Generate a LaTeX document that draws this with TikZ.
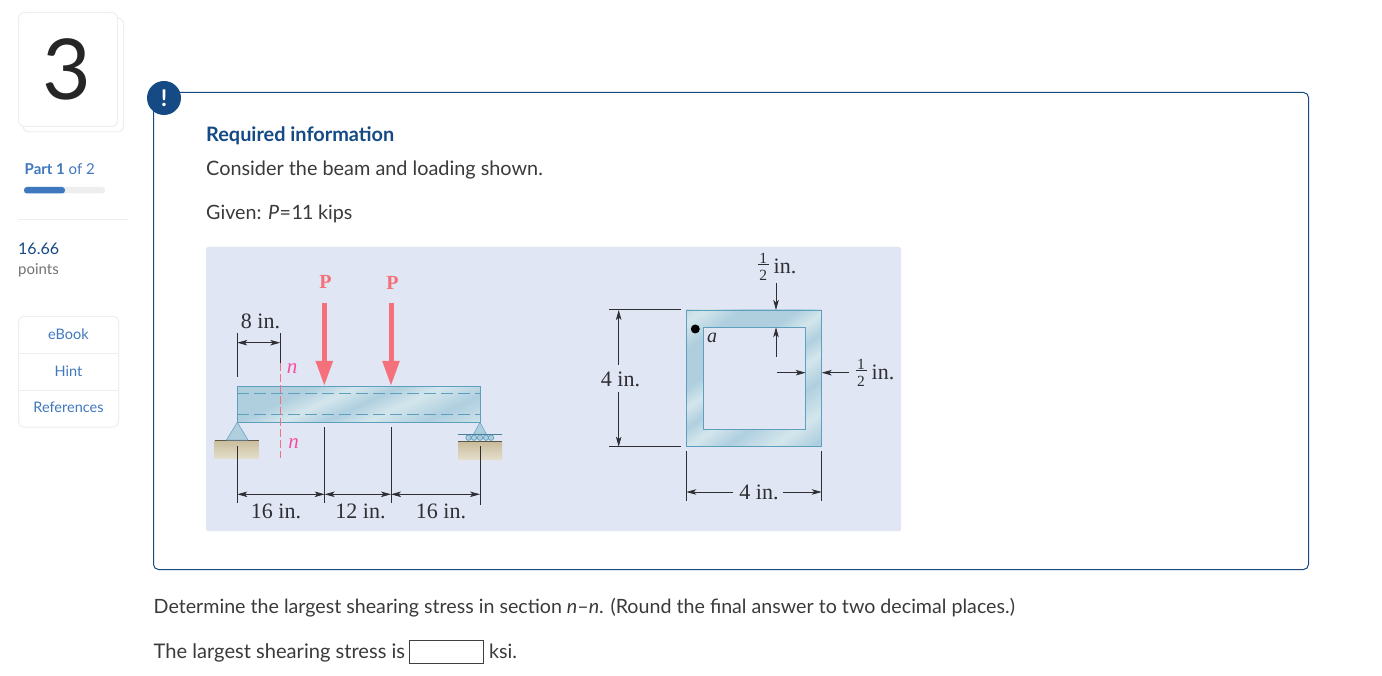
\documentclass[tikz,border=0pt]{standalone}
\usepackage{fontspec}
\setsansfont{Lato}
\setmainfont{Liberation Serif}
\usetikzlibrary{arrows.meta}
\definecolor{navy}{HTML}{154A84}
\definecolor{linkblue}{HTML}{3F78BE}
\definecolor{bodytext}{HTML}{3A3A3A}
\definecolor{panel}{HTML}{E0E6F3}
\definecolor{steelA}{HTML}{AFCFDF}
\definecolor{steelB}{HTML}{D4E6EC}
\definecolor{steelE}{HTML}{5F9FBE}
\definecolor{loadred}{HTML}{F4707A}
\definecolor{sandA}{HTML}{C9BC9B}
\definecolor{sandB}{HTML}{E4DECB}
\definecolor{dimk}{HTML}{2E2E33}
\definecolor{cardline}{HTML}{EEEEEE}
\pgfdeclarehorizontalshading{steel}{100bp}{
 color(0bp)=(steelA); color(30bp)=(steelA); color(34bp)=(steelB); color(38bp)=(steelA);
 color(44bp)=(steelA); color(47bp)=(steelB); color(50bp)=(steelA); color(53bp)=(steelB);
 color(57bp)=(steelA); color(62bp)=(steelB); color(66bp)=(steelA); color(100bp)=(steelA)}
\tikzset{
 x=1pt,y=-1pt,
 ui/.style={font=\sffamily\fontsize{#1}{#1}\selectfont,inner sep=0pt,anchor=base west},
 ui/.default=20,
 uic/.style={font=\sffamily\fontsize{#1}{#1}\selectfont,inner sep=0pt},
 fig/.style={font=\rmfamily\fontsize{22}{22}\selectfont,text=dimk,inner sep=0pt},
 figit/.style={font=\rmfamily\itshape\fontsize{21}{21}\selectfont,inner sep=0pt},
 frac/.style={font=\rmfamily\fontsize{15.5}{15.5}\selectfont,text=dimk,inner sep=0pt},
 dimline/.style={draw=dimk,line width=1pt},
 dimarrow/.style={draw=dimk,line width=0.8pt,{Stealth[length=10pt,width=5.5pt,inset=2.5pt]}-{Stealth[length=10pt,width=5.5pt,inset=2.5pt]}},
 onearrow/.style={draw=dimk,line width=0.8pt,-{Stealth[length=10pt,width=5.5pt,inset=2.5pt]}},
 loadarrow/.style={draw=loadred,line width=5pt,-{Triangle[length=25pt,width=16pt]}},
 card/.style={draw=cardline,line width=1pt,fill=white,rounded corners=6pt},
}
\begin{document}
\begin{tikzpicture}
\useasboundingbox (0,0) rectangle (1382,676);
\fill[white] (0,0) rectangle (1382,676);
% sidebar cards
\draw[card] (23,18) rectangle (123.5,132);
\draw[card] (18.5,12.5) rectangle (117.5,126.5);
\node[uic=84,text=black!85] (num) at (67,69) {3};
\node[ui=15,text=linkblue] (part) at (24.5,174.5) {\textbf{Part 1} of 2};
\fill[cardline,rounded corners=3pt] (24,187) rectangle (105,193.5);
\fill[linkblue,rounded corners=3pt] (24,187) rectangle (65,193.5);
\draw[cardline,line width=1pt] (18,219.5) -- (128,219.5);
\node[ui=16,text=navy] (score) at (18,254.5) {16.66};
\node[ui=15,text=black!55] (pts) at (18,274.5) {points};
\draw[draw=cardline,line width=1pt,rounded corners=5pt] (18.5,316.5) -- (118.5,316.5) -- (118.5,427) -- (18.5,427) -- cycle;
\draw[cardline,line width=1pt] (18.5,353.5) -- (118.5,353.5) (18.5,390.5) -- (118.5,390.5);
\node[uic=14.5,text=linkblue] (ebook) at (68.5,334.5) {eBook};
\node[uic=14.5,text=linkblue] (hint) at (68.5,371) {Hint};
\node[uic=14.5,text=linkblue] (refs) at (68.5,407.5) {References};
% main box
\draw[navy,line width=1pt,rounded corners=5pt] (153.5,92.5) rectangle (1308.5,569.5);
\node[circle,fill=navy,minimum size=34pt,inner sep=0pt,text=white,font=\sffamily\bfseries\fontsize{23}{23}\selectfont] (alert) at (164,98) {!};
\node[ui=19.9,text=navy] (req) at (206,142) {\textbf{Required information}};
\node[ui=19.85,text=bodytext] (cons) at (206,175.5) {Consider the beam and loading shown.};
\node[ui=19.7,text=bodytext] (given) at (206,219.5) {Given: \textit{P}\kern0.5pt=\kern0.5pt 1\kern-1pt1\kern-0.5pt{} kips};
\node[ui=19.65,text=bodytext] (det) at (153.5,613.5) {Determine the largest shearing stress in section \textit{n}–\textit{n}. (Round the final answer to two decimal places.)};
\node[ui=20.1,text=bodytext] (ans) at (153.5,658) {The largest shearing stress is};
\draw[black!75,line width=1pt] (409.5,640.5) rectangle (483.5,663);
\node[ui=19.7,text=bodytext] (ksi) at (489,658) {ksi.};
% figure panel
\fill[panel,rounded corners=1.5pt] (206,247) rectangle (901,531);
% ---- beam
\begin{scope}
\clip (237.3,386) rectangle (480,422.3);
\shade[shading=steel,shading angle=-65] (210,255) rectangle (510,555);
\end{scope}
\draw[steelE,line width=0.9pt] (237.3,386) rectangle (480,422.3);
\draw[steelE,line width=1pt,dash pattern=on 12pt off 5pt] (237.3,393.7) -- (480,393.7) (237.3,414.7) -- (480,414.7);
% supports
\shade[top color=sandA,bottom color=sandB] (214.7,440) rectangle (258.7,458.5);
\draw[black!55!sandA,line width=0.9pt] (214.7,440) -- (258.7,440);
\fill[steelA,draw=steelE,line width=0.5pt] (237.3,422.3) -- (248,440) -- (226.5,440) -- cycle;
\shade[top color=sandA,bottom color=sandB] (458,441.7) rectangle (502,459.5);
\draw[black!55!sandA,line width=0.9pt] (458,441.7) -- (502,441.7);
\fill[steelA,draw=steelE,line width=0.5pt] (480,422.3) -- (486.3,434) -- (473.7,434) -- cycle;
\draw[steelE!80!black,line width=0.8pt] (458,434) -- (502,434);
\foreach \cx in {468.5,474,480,486,491}{\draw[steelE,fill=steelA,line width=0.7pt] (\cx,437.7) circle[radius=2.7pt];}
% section n-n
\coordinate (nt) at (280.3,363);
\coordinate (nb) at (280.3,458);
\draw[loadred,line width=0.9pt,dash pattern=on 8pt off 3pt] (nt) -- (nb);
\node[figit,text=loadred!70!magenta] (n1) at (292,368.5) {n};
\node[figit,text=loadred!70!magenta] (n2) at (293.5,443.5) {n};
% loads
\coordinate (p1a) at (324.3,303); \coordinate (p1b) at (324.3,386);
\coordinate (p2a) at (391,303); \coordinate (p2b) at (391,386);
\draw[loadarrow] (p1a) -- (p1b);
\draw[loadarrow] (p2a) -- (p2b);
\node[fig,text=loadred,font=\rmfamily\bfseries\fontsize{20}{20}\selectfont] (P1) at (325.5,282) {P};
\node[fig,text=loadred,font=\rmfamily\bfseries\fontsize{20}{20}\selectfont] (P2) at (392.5,283) {P};
% 8 in
\coordinate (a0t) at (237.3,332.7); \coordinate (a0b) at (237.3,376.7);
\coordinate (a1t) at (280.3,332.7); \coordinate (a1b) at (280.3,363);
\draw[dimline] (a0t) -- (a0b) (a1t) -- (a1b);
\coordinate (a2) at (237.3,342.7); \coordinate (a3) at (280.3,342.7);
\draw[dimarrow] (a2) -- (a3);
\node[fig] (l8) at (260.5,321.5) {8 in.};
% bottom dims
\coordinate (b0t) at (237.3,446); \coordinate (b0b) at (237.3,503);
\coordinate (b1t) at (324.7,427.3); \coordinate (b1b) at (324.7,503);
\coordinate (b2t) at (391,427.3); \coordinate (b2b) at (391,503);
\coordinate (b3t) at (480,446); \coordinate (b3b) at (480,505);
\draw[dimline] (b0t) -- (b0b) (b1t) -- (b1b) (b2t) -- (b2b) (b3t) -- (b3b);
\coordinate (d0) at (237.3,494.3); \coordinate (d1) at (324.7,494.3);
\coordinate (d2) at (391,494.3); \coordinate (d3) at (480,494.3);
\draw[dimarrow] (d0) -- (d1);
\draw[dimarrow] (d1) -- (d2);
\draw[dimarrow] (d2) -- (d3);
\node[fig] (l16a) at (276,511) {16 in.};
\node[fig] (l12) at (360.5,511) {12 in.};
\node[fig] (l16b) at (441,511) {16 in.};
% ---- cross-section
\begin{scope}
\clip (686.3,310) rectangle (821.7,446.7);
\shade[shading=steel,shading angle=-55] (620,245) rectangle (890,515);
\end{scope}
\draw[steelE,line width=0.9pt] (686.3,310) rectangle (821.7,446.7);
\draw[steelE,line width=0.9pt,fill=panel] (703.3,327.3) rectangle (805.7,429.3);
\fill[black] (695.3,329) circle[radius=4.5pt];
\node[figit,text=dimk,font=\rmfamily\itshape\fontsize{20}{20}\selectfont] (a) at (712,338) {a};
% 4 in left
\coordinate (c0a) at (609.3,310); \coordinate (c0b) at (680.7,310);
\coordinate (c1a) at (609.3,446.7); \coordinate (c1b) at (680.7,446.7);
\draw[dimline] (c0a) -- (c0b) (c1a) -- (c1b);
\coordinate (v0) at (618.7,310); \coordinate (v1) at (618.7,364.7);
\coordinate (v2) at (618.7,392); \coordinate (v3) at (618.7,446.7);
\draw[onearrow] (v1) -- (v0);
\draw[onearrow] (v2) -- (v3);
\node[fig] (l4a) at (620.5,379.5) {4 in.};
% 4 in bottom
\coordinate (e0a) at (686.3,451); \coordinate (e0b) at (686.3,501);
\coordinate (e1a) at (821.7,451); \coordinate (e1b) at (821.7,501);
\draw[dimline] (e0a) -- (e0b) (e1a) -- (e1b);
\coordinate (h0) at (686.3,492); \coordinate (h1) at (733.3,492);
\coordinate (h2) at (782.7,492); \coordinate (h3) at (821.7,492);
\draw[onearrow] (h1) -- (h0);
\draw[onearrow] (h2) -- (h3);
\node[fig] (l4b) at (759,492) {4 in.};
% 1/2 in top
\coordinate (t0) at (776,282.7); \coordinate (t1) at (776,310);
\coordinate (t2) at (776,356.7); \coordinate (t3) at (776,327.3);
\draw[onearrow] (t0) -- (t1);
\draw[onearrow] (t2) -- (t3);
\node[frac] (fa1) at (763.3,258) {1};
\node[frac] (fa2) at (763.3,275.5) {2};
\draw[dimk,line width=0.8pt] ([xshift=-5.5pt,yshift=0pt]fa1.south) ++(0,1.5) -- ++(11,0);
\node[fig] (ia) at (785,266.5) {in.};
% 1/2 in right
\coordinate (r0) at (776.7,372.7); \coordinate (r1) at (805.7,372.7);
\coordinate (r2) at (849.3,372.7); \coordinate (r3) at (821.7,372.7);
\draw[onearrow] (r0) -- (r1);
\draw[onearrow] (r2) -- (r3);
\node[frac] (fb1) at (861,364) {1};
\node[frac] (fb2) at (861,381.5) {2};
\draw[dimk,line width=0.8pt] ([xshift=-5.5pt]fb1.south) ++(0,1.5) -- ++(11,0);
\node[fig] (ib) at (883,372.5) {in.};
\end{tikzpicture}
\end{document}
